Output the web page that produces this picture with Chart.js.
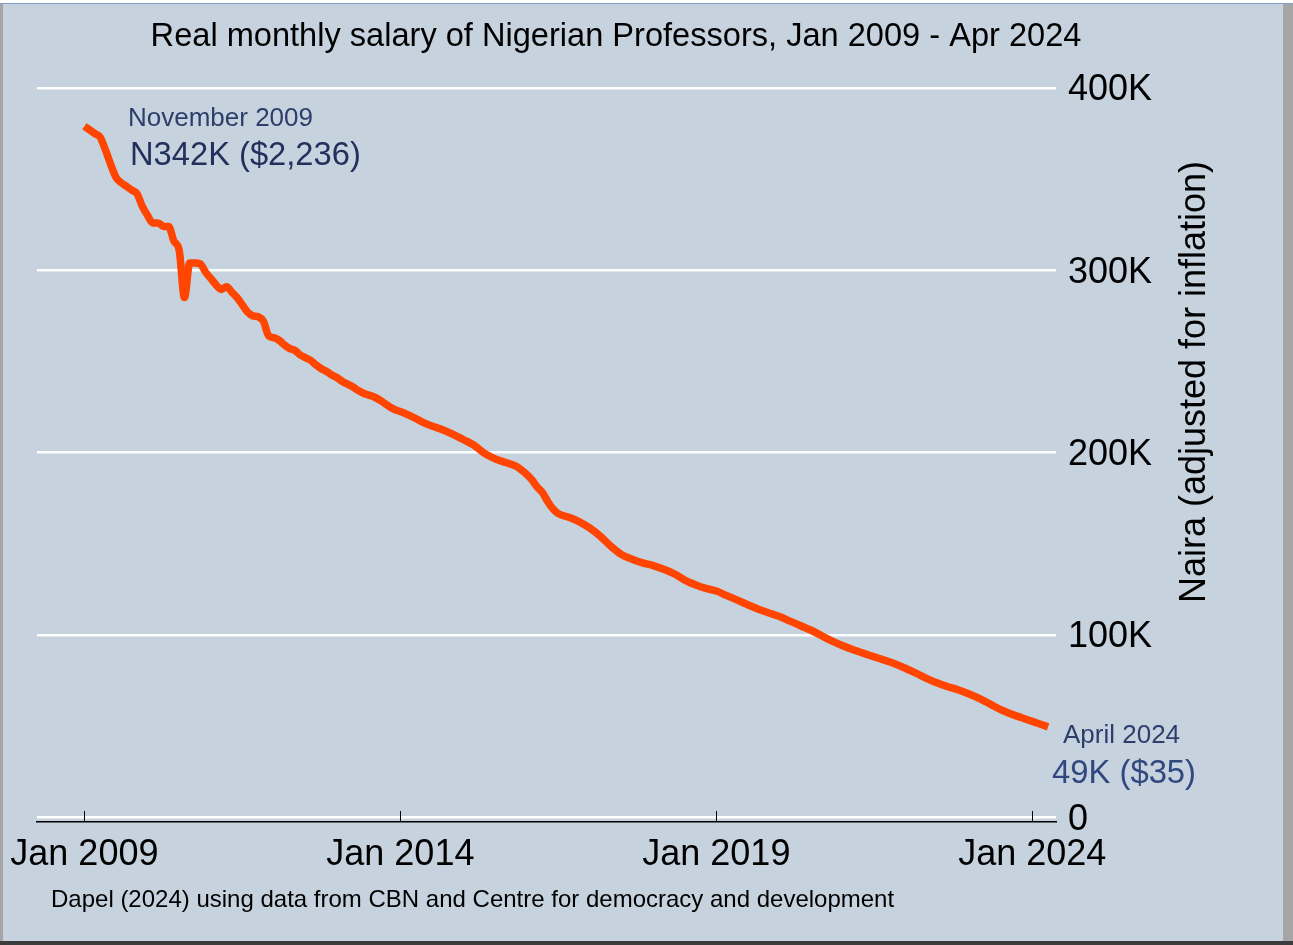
<!DOCTYPE html>
<html>
<head>
<meta charset="utf-8">
<script src="https://cdn.jsdelivr.net/npm/chart.js@4.4.1/dist/chart.umd.min.js"></script>
<style>
  html, body { margin: 0; padding: 0; background: #ffffff; }
  #frame {
    position: absolute; left: 0; top: 0; width: 1293px; height: 945px;
    background: #c6d3df; overflow: hidden;
  }
  #leftEdge { position: absolute; left: 0; top: 4px; width: 3px; height: 938px; background: #a6a6a6; }
  #rightEdge { position: absolute; left: 1283px; top: 4px; width: 10px; height: 938px; background: #a6a6a6; }
  #topEdge { position: absolute; left: 0; top: 3px; width: 1293px; height: 1px; background: #7c9cc0; }
  #bottomEdge { position: absolute; left: 0; top: 941px; width: 1293px; height: 4px; background: #3c3c3c; }
  #topWhite { position: absolute; left: 0; top: 0; width: 1293px; height: 3px; background: #ffffff; }
  canvas { position: absolute; left: 0; top: 0; }
</style>
</head>
<body>
<div id="frame">
  <div id="topWhite"></div>
  <div id="topEdge"></div>
  <div id="leftEdge"></div>
  <div id="rightEdge"></div>
  <div id="bottomEdge"></div>
  <canvas id="salaryChart" width="1293" height="945"></canvas>
</div>
<script>
// months since Jan 2009 (0 = Jan 2009, 183 = Apr 2024)
const months = [
    0, 1, 2, 3, 4, 5, 6, 7, 8, 9, 10, 11, 12, 13, 14, 15, 16, 17, 18, 19,
    20, 21, 22, 23, 24, 25, 26, 27, 28, 29, 30, 31, 32, 33, 34, 35, 36, 37, 38, 39,
    40, 41, 42, 43, 44, 45, 46, 47, 48, 49, 50, 51, 52, 53, 54, 55, 56, 57, 58, 59,
    60, 62, 64, 66, 68, 70, 72, 74, 76, 78, 80, 82, 84, 85, 86, 87, 88, 89, 90, 92,
    94, 96, 98, 100, 102, 104, 106, 108, 110, 112, 114, 116, 118, 120, 122, 124, 126, 128, 130, 132,
    134, 136, 138, 140, 142, 144, 146, 148, 150, 152, 154, 156, 158, 160, 162, 164, 166, 168, 170, 172,
    174, 176, 178, 180, 182, 183
];

// real monthly salary, thousands of naira
const salaryK = [
    379, 377, 375, 373, 366, 358, 351, 348, 346, 344, 342, 335, 330, 326, 326, 324, 324, 316, 311, 285,
    304, 304, 303.5, 299, 295.5, 292, 289.5, 291, 288, 285, 281, 277, 275, 274.5, 272, 264, 263, 261.5, 259, 257,
    256, 253.5, 252, 250.5, 248, 246, 244.5, 242.5, 241, 239, 237.5, 236, 234, 232.5, 231.5, 230.5, 229, 227, 225, 223.5,
    222.5, 220, 217, 214.5, 212.5, 210, 207, 204, 199.5, 196.5, 194.5, 192.5, 188, 185, 181, 178, 173, 169, 166.5, 164.5,
    162, 158.5, 154, 148.5, 144, 141.5, 139.5, 138, 136, 133.5, 130, 127.5, 125.5, 124, 121.5, 119, 116.5, 114, 112, 110,
    107.5, 105, 102.5, 99.5, 96.5, 94, 91.8, 89.8, 87.9, 86, 84, 81.5, 78.8, 76, 73.5, 71.5, 69.7, 67.5, 65, 62,
    59, 56.6, 54.5, 52.5, 50.5, 49.5
];

const xTickMonths = [0, 60, 120, 180];
const xTickLabels = ["Jan 2009", "Jan 2014", "Jan 2019", "Jan 2024"];
const yTicks = [0, 100, 200, 300, 400];
const yTickLabels = ["0", "100K", "200K", "300K", "400K"];

const chartTitle = "Real monthly salary of Nigerian Professors, Jan 2009 - Apr 2024";
const yAxisTitle = "Naira (adjusted for inflation)";
const sourceNote = "Dapel (2024) using data from CBN and Centre for democracy and development";
const startNote = ["November 2009", "N342K ($2,236)"];
const endNote = ["April 2024", "49K ($35)"];

const FONT = "'Liberation Sans', Arial, sans-serif";

// title, notes, axis title and the small inward tick marks on the x axis
const extras = {
    id: 'extras',
    afterDraw(chart) {
        const ctx = chart.ctx;
        const x = chart.scales.x;
        const area = chart.chartArea;

        ctx.save();
        ctx.strokeStyle = '#000000';
        ctx.lineWidth = 1;
        xTickMonths.forEach(m => {
            const px = Math.round(x.getPixelForValue(m)) + 0.5;
            ctx.beginPath();
            ctx.moveTo(px, area.bottom);
            ctx.lineTo(px, area.bottom - 11);
            ctx.stroke();
        });

        ctx.textBaseline = 'middle';
        ctx.textAlign = 'center';
        ctx.fillStyle = '#000000';
        ctx.font = '32.6px ' + FONT;
        ctx.fillText(chartTitle, 616, 37);

        ctx.textAlign = 'left';
        ctx.fillStyle = '#2d3e6b';
        ctx.font = '26px ' + FONT;
        ctx.fillText(startNote[0], 128, 119);
        ctx.fillStyle = '#22315c';
        ctx.font = '32.7px ' + FONT;
        ctx.fillText(startNote[1], 130, 156);

        ctx.fillStyle = '#2d3e6b';
        ctx.font = '26px ' + FONT;
        ctx.fillText(endNote[0], 1063, 736);
        ctx.fillStyle = '#30487f';
        ctx.font = '32.8px ' + FONT;
        ctx.fillText(endNote[1], 1052, 774);

        ctx.fillStyle = '#000000';
        ctx.font = '24px ' + FONT;
        ctx.fillText(sourceNote, 51, 900);

        ctx.translate(1195, 382);
        ctx.rotate(-Math.PI / 2);
        ctx.textAlign = 'center';
        ctx.font = '36px ' + FONT;
        ctx.fillText(yAxisTitle, 0, 0);
        ctx.restore();
    }
};

const ctx = document.getElementById('salaryChart').getContext('2d');

new Chart(ctx, {
    type: 'line',
    data: {
        datasets: [{
            data: months.map((m, i) => ({ x: m, y: salaryK[i] })),
            borderColor: '#ff4500',
            borderWidth: 7.5,
            pointRadius: 0,
            fill: false,
            cubicInterpolationMode: 'monotone',
            borderJoinStyle: 'round',
            borderCapStyle: 'butt'
        }]
    },
    options: {
        responsive: false,
        animation: false,
        layout: { padding: { left: 37, right: 0, top: 88, bottom: 0 } },
        plugins: {
            legend: { display: false },
            tooltip: { enabled: false },
            title: { display: false }
        },
        scales: {
            x: {
                type: 'linear',
                min: -9,
                max: 184.5,
                afterBuildTicks: scale => { scale.ticks = xTickMonths.map(v => ({ value: v })); },
                afterFit: scale => {
                    scale.height = 123;
                    scale.paddingLeft = 0;
                    scale.paddingRight = 0;
                },
                grid: { display: false, drawTicks: false },
                border: { display: true, color: '#000000', width: 1.5 },
                ticks: {
                    padding: 11,
                    color: '#000000',
                    maxRotation: 0,
                    font: { family: FONT, size: 36 },
                    callback: (v) => xTickLabels[xTickMonths.indexOf(v)]
                }
            },
            y: {
                position: 'right',
                min: -2.7,
                max: 400,
                afterBuildTicks: scale => { scale.ticks = yTicks.map(v => ({ value: v })); },
                afterFit: scale => {
                    scale.width = 237;
                    scale.paddingTop = 0;
                    scale.paddingBottom = 0;
                },
                grid: { color: '#ffffff', lineWidth: 2.5, drawTicks: false },
                border: { display: false },
                ticks: {
                    padding: 12,
                    labelOffset: 2.5,
                    color: '#000000',
                    font: { family: FONT, size: 36 },
                    callback: (v) => yTickLabels[yTicks.indexOf(v)]
                }
            }
        }
    },
    plugins: [extras]
});
</script>
</body>
</html>
